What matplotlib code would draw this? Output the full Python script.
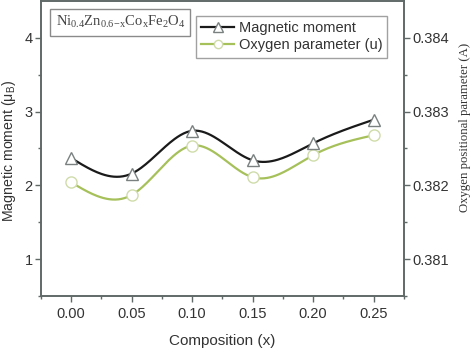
import numpy as np
import matplotlib.pyplot as plt
from matplotlib.lines import Line2D

# composition and the two measured series
x = [0.00, 0.05, 0.10, 0.15, 0.20, 0.25]
moment = [2.37, 2.16, 2.74, 2.34, 2.57, 2.89]          # mu_B
oxygen_u = [0.38204, 0.38187, 0.38254, 0.38211, 0.38241, 0.38268]  # A

xticks = [0.00, 0.05, 0.10, 0.15, 0.20, 0.25]


def natural_spline(xs, ys, n=200):
    # natural cubic spline for the smooth connecting curve
    xs = np.asarray(xs, float)
    ys = np.asarray(ys, float)
    k = len(xs)
    h = np.diff(xs)
    A = np.zeros((k, k))
    b = np.zeros(k)
    A[0, 0] = A[-1, -1] = 1
    for i in range(1, k - 1):
        A[i, i - 1] = h[i - 1]
        A[i, i] = 2 * (h[i - 1] + h[i])
        A[i, i + 1] = h[i]
        b[i] = 3 * ((ys[i + 1] - ys[i]) / h[i] - (ys[i] - ys[i - 1]) / h[i - 1])
    c = np.linalg.solve(A, b)
    xx = np.linspace(xs[0], xs[-1], n)
    idx = np.clip(np.searchsorted(xs, xx) - 1, 0, k - 2)
    dx = xx - xs[idx]
    bb = (ys[1:] - ys[:-1]) / h - h * (2 * c[:-1] + c[1:]) / 3
    dd = (c[1:] - c[:-1]) / (3 * h)
    yy = ys[idx] + bb[idx] * dx + c[idx] * dx ** 2 + dd[idx] * dx ** 3
    return xx, yy


plt.rcParams['font.family'] = 'Liberation Sans'
axis_col = '#606868'
black = '#1a1a1a'
green = '#a6c05a'
tri_edge = '#7a8080'
circ_edge = '#cfdcaa'
txt = '#333333'

fig = plt.figure(figsize=(4.74, 3.49), dpi=100)
ax = fig.add_axes([0.0865, 0.152, 0.7655, 0.845])
ax2 = ax.twinx()

xx, yy = natural_spline(x, moment)
ax.plot(xx, yy, color=black, lw=1.6, zorder=3)
ax.plot(x, moment, ls='none', marker='^', ms=9, mfc='white', mec=tri_edge, mew=1.0, zorder=4)

xx, yy = natural_spline(x, oxygen_u)
ax2.plot(xx, yy, color=green, lw=1.6, zorder=3)
ax2.plot(x, oxygen_u, ls='none', marker='o', ms=8, mfc='white', mec=circ_edge, mew=1.0, zorder=4)

ax.set_xlim(-0.025, 0.275)
ax.set_ylim(0.5, 4.5)
ax2.set_ylim(0.3805, 0.3845)

ax.set_xticks(xticks)
ax.set_xticklabels([f'{v:.2f}' for v in xticks])
ax.set_xticks(np.arange(-0.025, 0.276, 0.05), minor=True)
ax.set_yticks([1, 2, 3, 4])
ax.set_yticks([0.5, 1.5, 2.5, 3.5], minor=True)
ax2.set_yticks([0.381, 0.382, 0.383, 0.384])
ax2.set_yticklabels(['0.381', '0.382', '0.383', '0.384'])
ax2.set_yticks([0.3805, 0.3815, 0.3825, 0.3835], minor=True)

for a in (ax, ax2):
    for s in a.spines.values():
        s.set_color(axis_col)
        s.set_linewidth(1.2)
    a.tick_params(which='both', direction='out', color=axis_col, labelsize=10.5,
                  labelcolor=txt)
    a.tick_params(which='major', length=4, width=1.0, pad=2)
    a.tick_params(which='minor', length=2.5, width=1.0)
ax.tick_params(axis='x', pad=4)

ax.set_xlabel('Composition (x)', fontsize=11, color=txt, labelpad=9)
ax.set_ylabel(r'Magnetic moment ($\mathregular{\mu_B}$)', fontsize=10.2, color=txt)
ax.yaxis.set_label_coords(-0.063, 0.49)
ax2.set_ylabel('Oxygen positional parameter (A)', fontsize=9.2, color=txt,
               family='Liberation Serif')
ax2.yaxis.set_label_coords(1.152, 0.573)

ax.text(0.04, 0.955, r'$\mathregular{Ni_{0.4}Zn_{0.6\!-\!x}Co_xFe_2O_4}$', transform=ax.transAxes,
        family='Liberation Serif', fontsize=10.5, color='#444444', va='top', ha='left',
        bbox=dict(boxstyle='square,pad=0.35', fc='white', ec='#8a8a8a', lw=1.0))

handles = [
    Line2D([], [], color=black, lw=1.6, marker='^', ms=7, mfc='white', mec=tri_edge),
    Line2D([], [], color=green, lw=1.6, marker='o', ms=6, mfc='white', mec=circ_edge),
]
leg = ax.legend(handles, ['Magnetic moment', 'Oxygen parameter (u)'], loc='upper right',
                bbox_to_anchor=(0.975, 0.975), fontsize=10.5, frameon=True, fancybox=False,
                handlelength=2.3, handletextpad=0.3, borderpad=0.35, labelspacing=0.25,
                labelcolor=txt)
leg.get_frame().set_edgecolor('#8a8a8a')
leg.get_frame().set_linewidth(1.0)
ax.set_zorder(ax2.get_zorder() + 1)
ax.patch.set_visible(False)

fig.savefig('out.png', dpi=100)
